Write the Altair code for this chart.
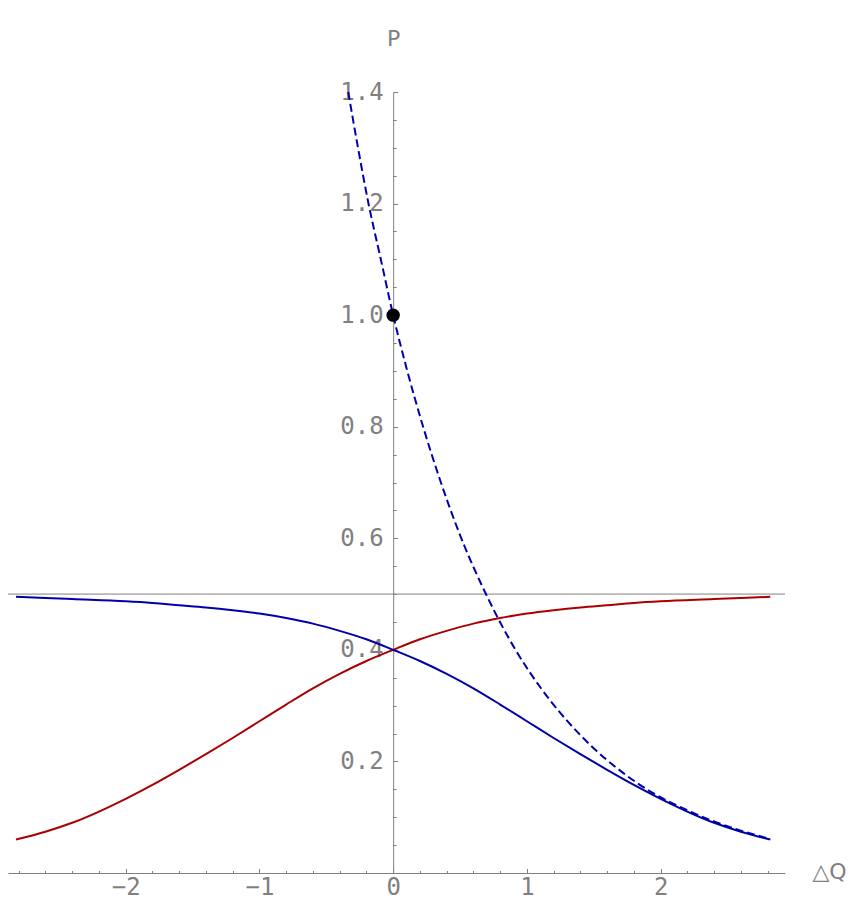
import altair as alt
import pandas as pd

# ---- data ----
x_solid = [-2.82, -2.6, -2.4, -2.0, -1.8, -1.6, -1.4, -1.2, -1.0, -0.8, -0.6, -0.4, -0.2, 0.0,
           0.2, 0.4, 0.6, 0.8, 1.0, 1.2, 1.4, 1.6, 1.8, 2.0, 2.4, 2.6, 2.82]
p_red = [0.060, 0.074, 0.090, 0.133, 0.158, 0.185, 0.213, 0.242, 0.272, 0.302, 0.331, 0.357, 0.380, 0.400,
         0.419, 0.434, 0.447, 0.457, 0.465, 0.471, 0.476, 0.480, 0.484, 0.487, 0.491, 0.493, 0.495]
p_blue = [0.495, 0.493, 0.491, 0.487, 0.484, 0.480, 0.476, 0.471, 0.465, 0.457, 0.447, 0.434, 0.419, 0.400,
          0.380, 0.357, 0.331, 0.302, 0.272, 0.242, 0.213, 0.185, 0.158, 0.133, 0.090, 0.074, 0.060]

x_dash = [-0.336, -0.265, -0.187, -0.095, 0.0, 0.1, 0.224, 0.35, 0.503, 0.69, 0.915,
          1.103, 1.3, 1.476, 1.7, 1.924, 2.15, 2.35, 2.6, 2.82]
p_dash = [1.400, 1.303, 1.203, 1.103, 1.000, 0.905, 0.800, 0.705, 0.604, 0.502, 0.400,
          0.332, 0.273, 0.229, 0.183, 0.146, 0.118, 0.097, 0.076, 0.061]

pt_x = [0.0]
pt_y = [1.0]
h_level = [0.5]

x_major = [-2, -1, 0, 1, 2]
x_minor = [-2.8, -2.6, -2.4, -2.2, -1.8, -1.6, -1.4, -1.2, -0.8, -0.6, -0.4, -0.2,
           0.2, 0.4, 0.6, 0.8, 1.2, 1.4, 1.6, 1.8, 2.2, 2.4, 2.6, 2.8]
y_major = [0.2, 0.4, 0.6, 0.8, 1.0, 1.2, 1.4]
y_minor = [0.05, 0.1, 0.15, 0.25, 0.3, 0.35, 0.45, 0.5, 0.55, 0.65, 0.7, 0.75, 0.85, 0.9,
           0.95, 1.05, 1.1, 1.15, 1.25, 1.3, 1.35]

X_DOM = [-2.88, 2.93]
Y_DOM = [0.0, 1.4]
W, H = 777, 781
GRAY = "#808080"
BLUE = "#0000aa"
RED = "#aa0000"

x0_px = (0 - X_DOM[0]) / (X_DOM[1] - X_DOM[0]) * W

df_solid = pd.DataFrame({"x": x_solid, "red": p_red, "blue": p_blue})
df_dash = pd.DataFrame({"x": x_dash, "p": p_dash})
df_pt = pd.DataFrame({"x": pt_x, "p": pt_y})
df_h = pd.DataFrame({"p": h_level})

xs = alt.Scale(domain=X_DOM, nice=False, zero=False)
ys = alt.Scale(domain=Y_DOM, nice=False, zero=False)

common_lab = dict(labelFont="DejaVu Sans Mono", labelFontSize=24, labelColor=GRAY,
                  domainColor=GRAY, tickColor=GRAY, grid=False, labelOverlap=False)

x_axis_main = alt.Axis(orient="top", offset=-H, values=x_major, format="d",
                       tickSize=4.5, labelBaseline="middle", labelPadding=-19, labelAlign="center",
                       title="△Q", titleX=821, titleY=-2, titleAlign="center", titleBaseline="middle",
                       titleAngle=0, titleFont="DejaVu Sans", titleFontSize=22, titleFontWeight="normal",
                       titleColor=GRAY, **common_lab)
y_axis_main = alt.Axis(orient="right", offset=-(W - x0_px), values=y_major, format=".1f",
                       tickSize=4.5, labelAlign="right", labelBaseline="middle", labelPadding=-14.5,
                       title="P", titleX=0, titleY=-54, titleAlign="center", titleBaseline="middle",
                       titleAngle=0, titleFont="DejaVu Sans", titleFontSize=22, titleFontWeight="normal",
                       titleColor=GRAY, **common_lab)
x_axis_minor = alt.Axis(orient="top", offset=-H, values=x_minor, tickSize=2.5, labels=False,
                        domain=False, title="", grid=False, tickColor=GRAY)
y_axis_minor = alt.Axis(orient="right", offset=-(W - x0_px), values=y_minor, tickSize=3, labels=False,
                        domain=False, title="", grid=False, tickColor=GRAY)

hline = alt.Chart(df_h).mark_rule(color=GRAY, strokeWidth=1).encode(
    y=alt.Y("p:Q", scale=ys, axis=None)
)

red_line = alt.Chart(df_solid).mark_line(color=RED, strokeWidth=2, interpolate="monotone").encode(
    x=alt.X("x:Q", scale=xs, axis=x_axis_minor),
    y=alt.Y("red:Q", scale=ys, axis=y_axis_minor),
)

blue_line = alt.Chart(df_solid).mark_line(color=BLUE, strokeWidth=2, interpolate="monotone").encode(
    x=alt.X("x:Q", scale=xs, axis=x_axis_main),
    y=alt.Y("blue:Q", scale=ys, axis=y_axis_main),
)

dash_line = alt.Chart(df_dash).mark_line(color=BLUE, strokeWidth=2, strokeDash=[8, 4],
                                         interpolate="monotone").encode(
    x=alt.X("x:Q", scale=xs, axis=None),
    y=alt.Y("p:Q", scale=ys, axis=None),
)

point = alt.Chart(df_pt).mark_circle(size=180, color="black", opacity=1).encode(
    x=alt.X("x:Q", scale=xs, axis=None),
    y=alt.Y("p:Q", scale=ys, axis=None),
)

chart = (
    alt.layer(hline, red_line, blue_line, dash_line, point)
    .resolve_axis(x="independent", y="independent")
    .properties(
        width=W,
        height=H,
        background="white",
        autosize=alt.AutoSizeParams(type="none"),
        padding={"left": 0, "top": 84, "right": 70, "bottom": 28},
    )
    .configure_view(stroke="transparent", strokeWidth=0)
)

chart.save("out.html", embed_options={"renderer": "svg", "actions": False})
